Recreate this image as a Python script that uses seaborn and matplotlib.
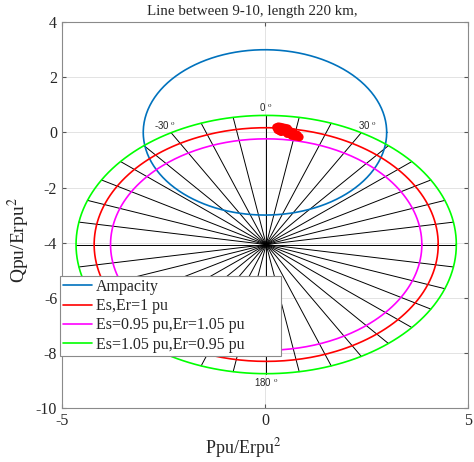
import numpy as np
import pandas as pd
import matplotlib
matplotlib.use("Agg")
import matplotlib.pyplot as plt
import seaborn as sns

# ---- data ----
title_text = "Line between 9-10, length 220 km,"
circle_center_P = 0.03
circle_center_Q = -4.07
base_radius = 4.24            # Es = Er = 1 pu
ampacity_radius = 3.0

case_labels = ["Es,Er=1 pu", "Es=0.95 pu,Er=1.05 pu", "Es=1.05 pu,Er=0.95 pu"]
case_Es = [1.0, 0.95, 1.05]
case_Er = [1.0, 1.05, 0.95]
case_colors = ["#FF0000", "#FF00FF", "#00FF00"]
ampacity_label = "Ampacity"
ampacity_color = "#0072BD"

spoke_angles_deg = [0, 10, 20, 30, 40, 50, 60, 70, 80, 90, 100, 110, 120, 130, 140, 150, 160, 170,
                    180, 190, 200, 210, 220, 230, 240, 250, 260, 270, 280, 290, 300, 310, 320, 330, 340, 350]
angle_label_values = [0, 30, -30, 180]
angle_label_radius = 5.0

op_P = [0.28, 0.33, 0.38, 0.44, 0.50, 0.31, 0.37, 0.43, 0.49, 0.55, 0.60, 0.40, 0.47, 0.53, 0.59, 0.65,
        0.70, 0.55, 0.62, 0.68, 0.74, 0.80, 0.66, 0.73, 0.79, 0.85, 0.36, 0.56, 0.64]
op_Q = [0.18, 0.21, 0.20, 0.18, 0.16, 0.09, 0.11, 0.12, 0.10, 0.09, 0.07, 0.02, 0.03, 0.04, 0.02, 0.01,
        0.00, -0.05, -0.06, -0.05, -0.07, -0.09, -0.12, -0.14, -0.15, -0.17, 0.05, 0.14, -0.01]

x_ticks = [-5, 0, 5]
y_ticks = [-10, -8, -6, -4, -2, 0, 2, 4]

# ---- style ----
sns.set_style("ticks")
plt.rcParams["font.family"] = ["Liberation Serif", "DejaVu Serif"]
plt.rcParams["mathtext.fontset"] = "stix"
plt.rcParams["axes.unicode_minus"] = False

fig = plt.figure(figsize=(4.74, 4.62), dpi=100)
ax = fig.add_axes([0.131, 0.117, 0.856, 0.835])

theta = np.linspace(0, 2 * np.pi, 361)

# spokes (drawn to outer circle radius)
outer_r = base_radius * max(e / r for e, r in zip(case_Es, case_Er))
for a in spoke_angles_deg:
    ar = np.deg2rad(a)
    sp = pd.DataFrame({"P": [circle_center_P, circle_center_P + outer_r * np.sin(ar)],
                       "Q": [circle_center_Q, circle_center_Q + outer_r * np.cos(ar)]})
    sns.lineplot(data=sp, x="P", y="Q", sort=False, estimator=None, color="black",
                 linewidth=0.7, ax=ax, legend=False)

# ampacity
amp = pd.DataFrame({"P": ampacity_radius * np.cos(theta), "Q": ampacity_radius * np.sin(theta)})
sns.lineplot(data=amp, x="P", y="Q", sort=False, estimator=None, color=ampacity_color,
             linewidth=1.2, ax=ax, label=ampacity_label)

# voltage circles
for lab, es, er, col in zip(case_labels, case_Es, case_Er, case_colors):
    r = base_radius * es / er
    df = pd.DataFrame({"P": circle_center_P + r * np.cos(theta),
                       "Q": circle_center_Q + r * np.sin(theta)})
    sns.lineplot(data=df, x="P", y="Q", sort=False, estimator=None, color=col,
                 linewidth=1.2, ax=ax, label=lab)

# operating points
sns.scatterplot(x=op_P, y=op_Q, color="#FF0000", marker="o", s=36, edgecolor="none",
                ax=ax, legend=False, zorder=5)

# angle labels
for a in angle_label_values:
    ar = np.deg2rad(a)
    ax.text(circle_center_P + angle_label_radius * np.sin(ar),
            circle_center_Q + angle_label_radius * np.cos(ar),
            f"{a} $^{{\\mathrm{{o}}}}$", ha="center", va="center", fontsize=7,
            family=["Liberation Sans", "DejaVu Sans"])

ax.set_xlim(-5, 5)
ax.set_ylim(-10, 4)
ax.set_xticks(x_ticks)
ax.set_yticks(y_ticks)
ax.grid(True, color="#e3e3e3", linewidth=0.7)
ax.set_axisbelow(True)
ax.tick_params(direction="in", top=True, right=True, labelsize=11.5, length=3, color="#555555")
for s in ax.spines.values():
    s.set_color("#8a8a8a")
    s.set_linewidth(0.8)

ax.set_title(title_text, fontsize=10.8, x=0.468, pad=5)
ax.set_xlabel("Ppu/Erpu$^2$", fontsize=13)
ax.set_ylabel("Qpu/Erpu$^2$", fontsize=14)
ax.xaxis.set_label_coords(0.446, -0.072)
ax.yaxis.set_label_coords(-0.075, 0.435)

leg = ax.legend(loc="lower left", bbox_to_anchor=(-0.005, 0.135, 0.545, 0.205), mode="expand",
                fontsize=11.5, frameon=True, fancybox=False, framealpha=1.0, edgecolor="#8a8a8a",
                handlelength=1.8, handletextpad=0.25, borderpad=0.2, labelspacing=0.2,
                borderaxespad=0.0)
leg.get_frame().set_linewidth(0.8)
leg.set_zorder(10)

fig.savefig("out.png", dpi=100)
